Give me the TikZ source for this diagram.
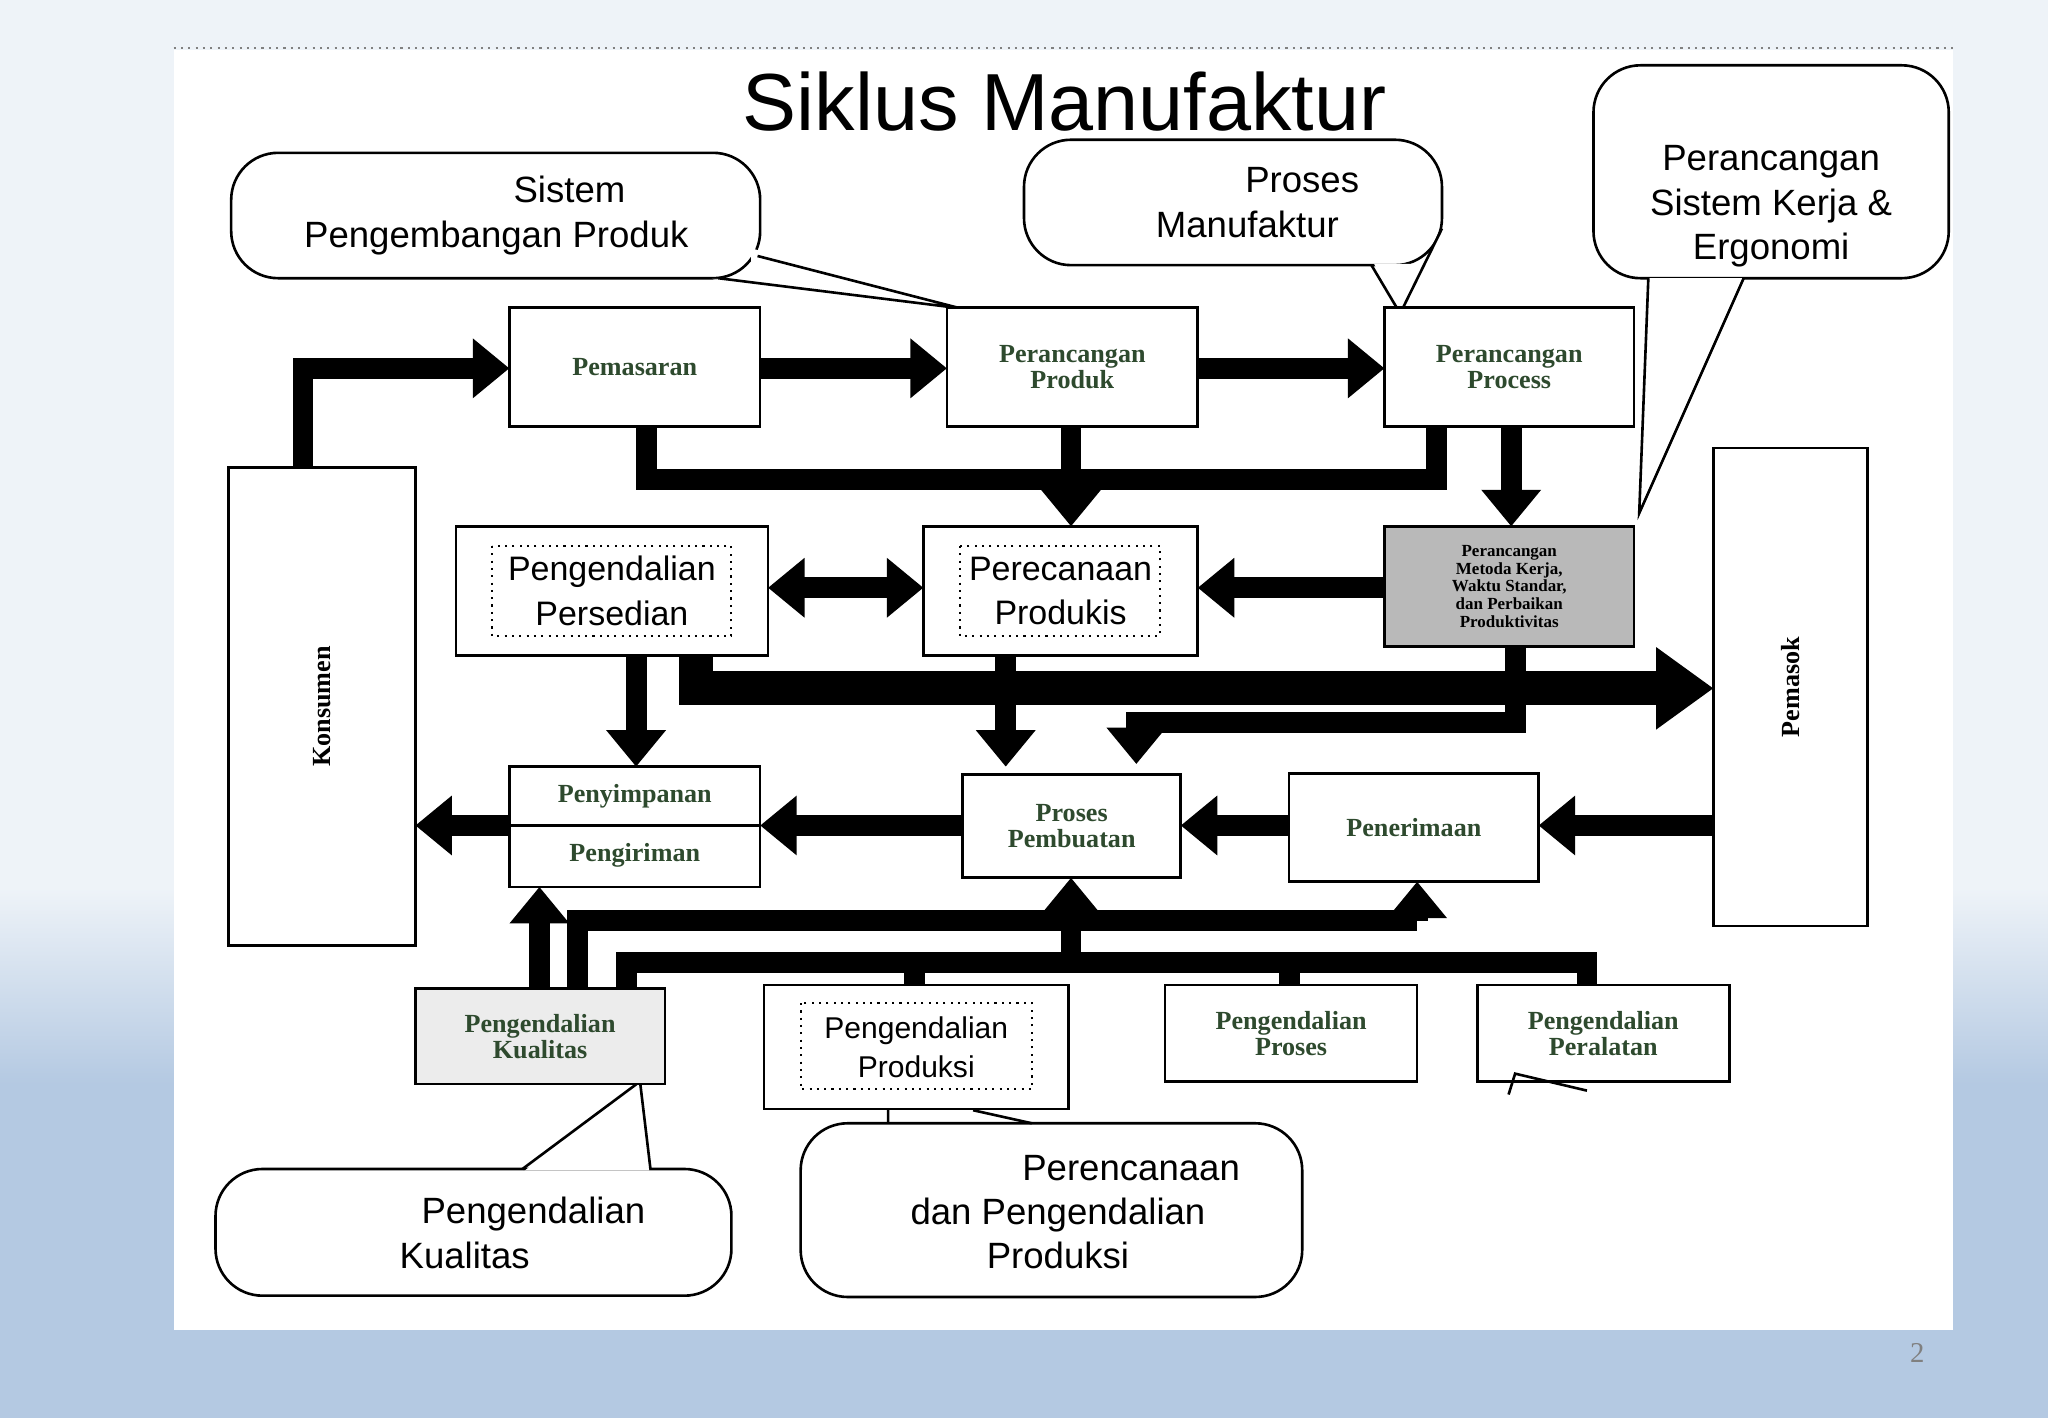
\documentclass[tikz,border=0pt]{standalone}
\usepackage{fontspec}
\setmainfont{Liberation Serif}
\newfontfamily\mysans{Liberation Sans}
\usetikzlibrary{arrows.meta,shapes.callouts}
\definecolor{lbl}{HTML}{2E4A2E}
\definecolor{bgb}{HTML}{B4C9E2}
\definecolor{bgt}{HTML}{EEF3F8}
\begin{document}
\begin{tikzpicture}[x=0.5pt,y=-0.5pt,
 box/.style={draw,line width=1pt,fill=white},
 dot/.style={draw,dotted,line width=0.8pt},
 lab/.style={font=\bfseries\fontsize{10}{10}\selectfont,text=lbl,align=center},
 clab/.style={font=\mysans\fontsize{14}{17}\selectfont,align=center},
 call/.style={draw,line width=1pt,fill=white,rounded corners=18pt},
 big/.style={line width=8pt},
 arr/.style={line width=8pt,-{Triangle[width=22pt,length=14pt]}},
 darr/.style={line width=8pt,{Triangle[width=22pt,length=14pt]}-{Triangle[width=22pt,length=14pt]}}]
% background
\fill[bgt] (0,0) rectangle (1568,680);
\shade[top color=bgt,bottom color=bgb] (0,680) rectangle (1568,830);
\fill[bgb] (0,830) rectangle (1568,1086);
\useasboundingbox (0,0) rectangle (1568,1086);
\fill[white] (133,38) rectangle (1495,1018);
\draw[dotted,line width=0.8pt,gray] (133,37) -- (1495,37);
\node[font=\fontsize{11}{11}\selectfont,text=gray] (pg) at (1468,1036) {2};
\node[font=\mysans\fontsize{31}{31}\selectfont] (title) at (815,78) {Siklus Manufaktur};

% callouts
\draw[call] (177,117) rectangle (582,213);
\fill[white] (575,190) -- (735,236) -- (545,213.5) -- (575,213.5) -- cycle;
\draw[line width=1pt] (580,196) -- (735,236) -- (550,213);
\node[clab] (c1) at (380,165) {\hspace*{4em}Sistem\\Pengembangan Produk};
\draw[call] (784,107) rectangle (1104,203);
\fill[white] (1052,202) -- (1072,240) -- (1103,178) -- (1103,202) -- cycle;
\draw[line width=1pt] (1050,203) -- (1072,240) -- (1104,175);
\node[clab] (c2) at (955,155) {\hspace*{3em}Proses\\Manufaktur};
\draw[call] (1220,50) rectangle (1492,213);
\draw[line width=1pt,fill=white] (1262,213) -- (1255,393) -- (1335,213);
\node[clab] (c3) at (1356,158) {Perancangan\\Sistem Kerja \&\\Ergonomi};
\draw[call] (165,895) rectangle (560,992);
\fill[white] (402,896) -- (490,828) -- (497,896) -- cycle;
\draw[line width=1pt] (400,895) -- (490,828) -- (498,895);
\node[clab,align=left] (c4) at (400,944) {\hspace*{0.6em}Pengendalian\\Kualitas};
\draw[call] (613,860) rectangle (997,993);
\draw[line width=1pt] (680,860) -- (680,850) (745,850) -- (790,860);
\node[clab] (c5) at (810,928) {\hspace*{4em}Perencanaan\\dan Pengendalian\\Produksi};

% thick connectors
\draw[arr] (232,358) -- (232,282) -- (390,282);
\draw[arr] (582,282) -- (725,282);
\draw[arr] (917,282) -- (1060,282);
\draw[big] (495,327) -- (495,367) -- (1100,367) -- (1100,327);
\draw[arr] (820,327) -- (820,403);
\draw[arr] (1157,327) -- (1157,403);
\draw[arr] (1060,450) -- (917,450);
\draw[darr] (588,450) -- (707,450);
\draw[arr] (487,502) -- (487,587);
\draw[arr] (770,502) -- (770,587);
\draw[line width=13pt,-{Triangle[width=30pt,length=22pt]}] (533,502) -- (533,527) -- (1312,527);
\draw[arr] (1160,495) -- (1160,553) -- (870,553) -- (870,585);
\draw[arr] (1312,632) -- (1178,632);
\draw[arr] (987,632) -- (904,632);
\draw[arr] (737,632) -- (582,632);
\draw[arr] (390,632) -- (318,632);
\draw[arr] (413,757) -- (413,679);
\draw[big] (442,757) -- (442,705) -- (1085,705);
\draw[arr] (1085,705) -- (1085,675);
\draw[arr] (820,705) -- (820,672);
\draw[big] (480,757) -- (480,737) -- (1215,737) -- (1215,754);
\draw[big] (700,737) -- (700,754);
\draw[big] (987,737) -- (987,754);
\draw[big] (820,737) -- (820,705);

% boxes
\node[box,minimum width=96pt,minimum height=45.5pt] (pem) at (486,281) {};
\node[lab] at (pem) {Pemasaran};
\node[box,minimum width=96pt,minimum height=45.5pt] (prod) at (821,281) {};
\node[lab] at (prod) {Perancangan\\Produk};
\node[box,minimum width=95.5pt,minimum height=45.5pt] (proc) at (1155.5,281) {};
\node[lab] at (proc) {Perancangan\\Process};
\node[box,minimum width=71.5pt,minimum height=183pt] (kon) at (246.5,541) {};
\node[lab,text=black,rotate=90] at (kon) {Konsumen};
\node[box,minimum width=59pt,minimum height=183pt] (pmk) at (1371,526) {};
\node[lab,text=black,rotate=90] at (pmk) {Pemasok};
\node[box,minimum width=119.5pt,minimum height=49.5pt] (pers) at (468.5,452.5) {};
\draw[dot] (377,418) rectangle (560,487);
\node[clab,font=\mysans\fontsize{13}{17}\selectfont] at (pers) {Pengendalian\\Persedian};
\node[box,minimum width=105pt,minimum height=49.5pt] (pere) at (812,452.5) {};
\draw[dot] (735,418) rectangle (888,487);
\node[clab,font=\mysans\fontsize{13}{17}\selectfont] at (pere) {Perecanaan\\Produkis};
\node[box,fill=gray!55,minimum width=95.5pt,minimum height=46pt] (met) at (1155.5,449) {};
\node[lab,text=black,font=\bfseries\fontsize{6.5}{6.8}\selectfont] at (met) {Perancangan\\Metoda Kerja,\\Waktu Standar,\\dan Perbaikan\\Produktivitas};
\node[box,minimum width=96pt,minimum height=46pt] (peny) at (486,633) {};
\draw[line width=1pt] (390,632) -- (582,632);
\node[lab] at (486,610) {Penyimpanan};
\node[lab] at (486,655) {Pengiriman};
\node[box,minimum width=83.5pt,minimum height=39.5pt] (pros) at (820.5,632.5) {};
\node[lab] at (pros) {Proses\\Pembuatan};
\node[box,minimum width=95.5pt,minimum height=41.5pt] (pen) at (1082.5,633.5) {};
\node[lab] at (pen) {Penerimaan};
\node[box,fill=gray!15,minimum width=95.5pt,minimum height=36.5pt] (kua) at (413.5,793.5) {};
\node[lab] at (kua) {Pengendalian\\Kualitas};
\node[box,minimum width=116.5pt,minimum height=47.5pt] (pprod) at (701.5,801.5) {};
\draw[dot] (613,768) rectangle (790,834);
\node[clab,font=\mysans\fontsize{11.5}{15}\selectfont] at (pprod) {Pengendalian\\Produksi};
\node[box,minimum width=96.5pt,minimum height=37pt] (ppros) at (988.5,791) {};
\node[lab] at (ppros) {Pengendalian\\Proses};
\node[box,minimum width=96.5pt,minimum height=37pt] (pper) at (1227.5,791) {};
\node[lab] at (pper) {Pengendalian\\Peralatan};
\draw[line width=1pt] (1215,835) -- (1160,822) -- (1155,838);
\end{tikzpicture}
\end{document}
